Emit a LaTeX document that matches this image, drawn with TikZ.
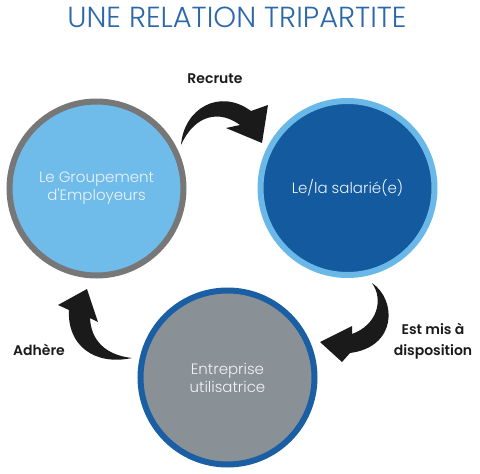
\documentclass[tikz,border=0pt]{standalone}
\usepackage{fontspec}
\setmainfont{Poppins}
\newfontfamily\lightf{Poppins Light}
\newfontfamily\labf{Poppins SemiBold}
\definecolor{titleblue}{HTML}{2B68AA}
\definecolor{c1fill}{HTML}{6FBBEA}
\definecolor{c1ring}{HTML}{777777}
\definecolor{c2fill}{HTML}{135A9F}
\definecolor{c2ring}{HTML}{6AB8E8}
\definecolor{c3fill}{HTML}{8A9196}
\definecolor{c3ring}{HTML}{1A5EA3}
\definecolor{arrowc}{HTML}{1A1A1A}
\definecolor{ctext}{HTML}{EEF4FA}
\begin{document}
\begin{tikzpicture}[x=1pt,y=-1pt,
  bubble/.style={circle,minimum size=174pt,inner sep=0pt,line width=6pt,
     text=ctext,font=\lightf\fontsize{15}{18}\selectfont,align=center},
  lab/.style={font=\labf\fontsize{14}{21}\selectfont,text=arrowc,align=center,inner sep=0pt},
  brush/.style={fill=arrowc,draw=none}]
\useasboundingbox (0,0) rectangle (480,474);
\node[font=\lightf\fontsize{29}{32}\selectfont,text=titleblue,inner sep=0pt] (title) at (237,17) {UNE RELATION TRIPARTITE};
\node[bubble,fill=c1fill,draw=c1ring] (grp) at (96.5,188.5) {Le Groupement\\d'Employeurs};
\node[bubble,fill=c2fill,draw=c2ring] (sal) at (347.5,188) {Le/la salarié(e)};
\node[bubble,fill=c3fill,draw=c3ring] (ent) at (227.5,377.5) {Entreprise\\utilisatrice};
% arrows
\fill[brush] (181,145) .. controls (184,108) and (220,88) .. (251,111) -- (268,105) -- (262,143) -- (226,128) -- (240,125) .. controls (220,110) and (195,114) .. (181,145) -- cycle;
\fill[brush] (372,283) .. controls (397,300) and (397,347) .. (350,353) -- (342,362) -- (320,342) -- (352,326) -- (352,334) .. controls (377,325) and (384,300) .. (372,283) -- cycle;
\fill[brush] (132,358) .. controls (94,366) and (67,345) .. (69,310) -- (58,305) -- (87,289) -- (98,322) -- (90,318) .. controls (91,340) and (105,355) .. (132,358) -- cycle;
\node[lab] (l1) at (215,79) {Recrute};
\node[lab] (l2) at (433,341) {Est mis à\\disposition};
\node[lab] (l3) at (39,350) {Adhère};
\end{tikzpicture}
\end{document}
